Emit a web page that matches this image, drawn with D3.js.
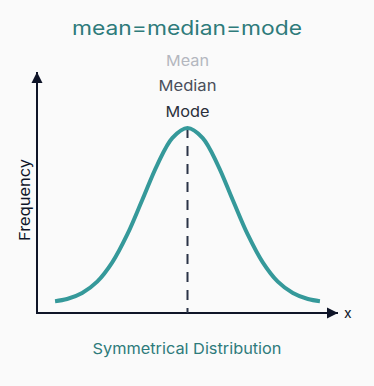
<!DOCTYPE html>
<html>
<head>
<meta charset="utf-8">
<script src="https://cdn.jsdelivr.net/npm/d3@7"></script>
<style>
  html, body { margin: 0; padding: 0; background: #fafafa; }
  svg { display: block; font-family: "Inter", "Lato", sans-serif; }
</style>
</head>
<body>
<svg id="chart" width="374" height="386"></svg>
<script>
// values (x position, frequency)
const xValues = [6, 10, 15, 20, 25, 30, 35, 40, 45, 50, 55, 60, 65, 70, 75, 80, 85, 90, 94];
const frequency = [4.9, 5.8, 8.3, 13, 21, 32.6, 47, 61.6, 72.7, 76.8, 72.7, 61.6, 47, 32.6, 21, 13, 8.3, 5.8, 4.9];
const centre = 50;           // mean = median = mode
const peakFrequency = 76.8;
const markerLabels = ["Mean", "Median", "Mode"];
const markerColors = ["#b4b7bf", "#4a4f5b", "#2a2f3b"];
const markerWidths = [43, 58, 44];

const width = 374, height = 386;
const axisColor = "#0f1528";
const curveColor = "#35999a";
const titleColor = "#2e7b7b";

const svg = d3.select("#chart");

svg.append("rect")
  .attr("width", width)
  .attr("height", height)
  .attr("fill", "#fafafa");

const x = d3.scaleLinear().domain([0, 100]).range([37, 338]);
const y = d3.scaleLinear().domain([0, 100]).range([313, 72]);

// arrow marker for the axes
const defs = svg.append("defs");
defs.append("marker")
  .attr("id", "arrow")
  .attr("viewBox", "0 0 10 10")
  .attr("refX", 10)
  .attr("refY", 5)
  .attr("markerUnits", "userSpaceOnUse")
  .attr("markerWidth", 11)
  .attr("markerHeight", 12)
  .attr("orient", "auto")
  .append("path")
  .attr("d", "M0,0L10,5L0,10Z")
  .attr("fill", axisColor);

// y axis
svg.append("line")
  .attr("x1", x(0)).attr("y1", y(0) + 1)
  .attr("x2", x(0)).attr("y2", y(100))
  .attr("stroke", axisColor)
  .attr("stroke-width", 2)
  .attr("marker-end", "url(#arrow)");

// x axis
svg.append("line")
  .attr("x1", x(0) - 1).attr("y1", y(0))
  .attr("x2", x(100)).attr("y2", y(0))
  .attr("stroke", axisColor)
  .attr("stroke-width", 2)
  .attr("marker-end", "url(#arrow)");

svg.append("text")
  .attr("x", x(100) + 6)
  .attr("y", y(0) + 5)
  .attr("fill", axisColor)
  .style("font-size", "14px")
  .text("x");

// dashed centre line
svg.append("line")
  .attr("x1", x(centre)).attr("y1", y(peakFrequency))
  .attr("x2", x(centre)).attr("y2", y(0))
  .attr("stroke", "#2a3346")
  .attr("stroke-width", 2)
  .attr("stroke-dasharray", "10,8");

// distribution curve
const line = d3.line()
  .x((d, i) => x(d))
  .y((d, i) => y(frequency[i]))
  .curve(d3.curveCatmullRom);

svg.append("path")
  .datum(xValues)
  .attr("d", line)
  .attr("fill", "none")
  .attr("stroke", curveColor)
  .attr("stroke-width", 4)
  .attr("stroke-linecap", "butt");

// title
svg.append("text")
  .attr("x", 187)
  .attr("y", 35)
  .attr("text-anchor", "middle")
  .attr("fill", titleColor)
  .attr("textLength", 230)
  .attr("lengthAdjust", "spacingAndGlyphs")
  .style("font-size", "20px")
  .text("mean=median=mode");

// marker labels
svg.selectAll(".marker-label")
  .data(markerLabels)
  .enter()
  .append("text")
  .attr("class", "marker-label")
  .attr("x", x(centre))
  .attr("y", (_, i) => 65.5 + i * 25.6)
  .attr("text-anchor", "middle")
  .attr("fill", (_, i) => markerColors[i])
  .attr("textLength", (_, i) => markerWidths[i])
  .attr("lengthAdjust", "spacingAndGlyphs")
  .style("font-size", "15px")
  .text(d => d);

// y label
svg.append("text")
  .attr("transform", `translate(30,200) rotate(-90)`)
  .attr("text-anchor", "middle")
  .attr("fill", axisColor)
  .attr("textLength", 82)
  .attr("lengthAdjust", "spacingAndGlyphs")
  .style("font-size", "15px")
  .text("Frequency");

// caption
svg.append("text")
  .attr("x", 187)
  .attr("y", 354)
  .attr("text-anchor", "middle")
  .attr("fill", titleColor)
  .attr("textLength", 189)
  .attr("lengthAdjust", "spacingAndGlyphs")
  .style("font-size", "15px")
  .text("Symmetrical Distribution");
</script>
</body>
</html>
